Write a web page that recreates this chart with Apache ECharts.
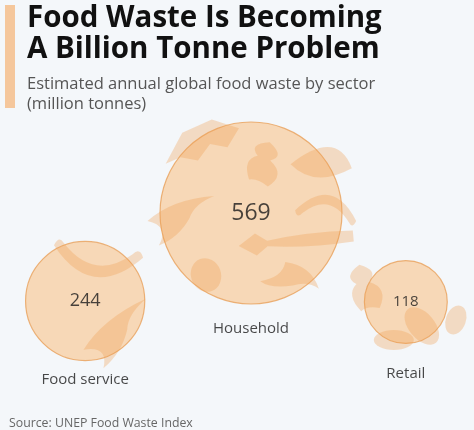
<!DOCTYPE html>
<html>
<head>
<meta charset="utf-8">
<script src="https://cdn.jsdelivr.net/npm/echarts@6/dist/echarts.min.js"></script>
<style>
html,body{margin:0;padding:0;background:#f4f7fa;}
#c{width:474px;height:430px;}
</style>
</head>
<body>
<div id="c"></div>
<script>
var categories = ['Food service', 'Household', 'Retail'];
var values = [244, 569, 118];

var chart = echarts.init(document.getElementById('c'));
var maxV = 569, maxSize = 182;
function sz(v){ return maxSize * Math.sqrt(v / maxV); }

// layout (style only)
var offsets = [[2, 0], [11.5, -88], [10, 1]];
var labelDist = [12, 17, 23];
var valueFont = [18, 23, 15];

var SHAPES = {
  crescent: 'path://M0,10 Q50,60 100,10 Q95,0 88,8 Q50,40 10,6 Q4,0 0,10 Z',
  leaf: 'path://M0,50 Q40,-10 100,20 Q60,60 0,50 Z',
  patch: 'path://M0,60 L30,10 L70,0 L100,30 L80,60 L60,45 L40,70 L20,55 Z',
  core: 'path://M30,0 Q60,20 40,40 Q70,60 50,100 Q30,90 20,100 Q0,60 20,40 Q0,20 30,0 Z',
  banana: 'path://M0,40 Q40,0 100,10 Q70,20 60,50 Q40,90 10,100 Q30,60 0,40 Z',
  fish: 'path://M0,50 L15,30 L25,45 Q60,35 100,40 L100,60 Q60,65 25,55 L15,70 Z',
  blob: 'circle'
};

// decorative food scraps: [bubbleIndex, dx, dy, shape, w, h, rotate]
var decor = [
  [1, -50, -72, 'patch', 80, 36, 15],
  [1, 14, -50, 'core', 32, 42, -20],
  [1, 72, -50, 'leaf', 55, 38, -30],
  [1, 76, -5, 'crescent', 62, 26, 170],
  [1, -68, 8, 'banana', 70, 40, 10],
  [1, 45, 28, 'fish', 115, 22, 5],
  [1, -45, 62, 'blob', 30, 34, 20],
  [1, 38, 70, 'banana', 40, 48, -60],
  [0, 12, -40, 'crescent', 90, 32, -8],
  [0, 36, 34, 'banana', 80, 40, 30],
  [2, -40, -15, 'core', 30, 46, 10],
  [2, 16, 24, 'blob', 26, 44, 40],
  [2, -12, 38, 'blob', 40, 20, 0],
  [2, 50, 18, 'blob', 20, 30, -20]
];

var bubbleData = values.map(function(v, i){
  return { value: [i, 0, v], symbolSize: sz(v), symbolOffset: offsets[i],
    label: { fontSize: valueFont[i] } };
});
var nameData = values.map(function(v, i){
  return { value: [i, 0, v], symbolSize: sz(v), symbolOffset: offsets[i],
    label: { distance: labelDist[i] } };
});
var decorData = decor.map(function(d){
  var o = offsets[d[0]];
  return { value: [d[0], 0], symbol: SHAPES[d[3]], symbolSize: [d[4], d[5]],
    symbolRotate: d[6], symbolOffset: [o[0] + d[1], o[1] + d[2]] };
});

chart.setOption({
  backgroundColor: '#f4f7fa',
  animation: false,
  graphic: [
    { type: 'rect', left: 5, top: 5, shape: { width: 10, height: 103 }, style: { fill: '#f5c79c' } }
  ],
  title: [
    { text: 'Food Waste Is Becoming\nA Billion Tonne Problem', left: 22, top: -2,
      textStyle: { fontFamily: 'Open Sans', fontWeight: 'bold', fontSize: 29.5, lineHeight: 31, color: '#111' } },
    { text: 'Estimated annual global food waste by sector\n(million tonnes)', left: 22, top: 69,
      textStyle: { fontFamily: 'Open Sans', fontWeight: 'normal', fontSize: 16.5, lineHeight: 20, color: '#555' } },
    { text: 'Source: UNEP Food Waste Index', left: 4, top: 412,
      textStyle: { fontFamily: 'Open Sans', fontWeight: 'normal', fontSize: 12.3, color: '#666' } }
  ],
  grid: { left: 5, right: 0, top: 201, height: 200 },
  xAxis: { type: 'category', data: categories, show: false, boundaryGap: true },
  yAxis: { type: 'value', min: -1, max: 1, show: false },
  series: [
    {
      type: 'scatter',
      data: bubbleData,
      itemStyle: { color: '#f8cfa6', borderColor: '#e8a05a', borderWidth: 1.2 },
      label: { show: false },
      z: 1,
      silent: true
    },
    {
      type: 'scatter',
      data: decorData,
      itemStyle: { color: 'rgba(241,160,80,0.4)' },
      z: 2,
      silent: true
    },
    {
      type: 'scatter',
      data: bubbleData,
      itemStyle: { color: 'rgba(0,0,0,0)' },
      label: { show: true, position: 'inside', color: '#1a1a1a', fontFamily: 'Open Sans',
        formatter: function(p){ return p.value[2]; } },
      z: 3,
      silent: true
    },
    {
      type: 'scatter',
      data: nameData,
      itemStyle: { color: 'rgba(0,0,0,0)' },
      label: { show: true, position: 'bottom', color: '#1a1a1a', fontFamily: 'Open Sans', fontSize: 15,
        formatter: function(p){ return categories[p.dataIndex]; } },
      z: 3,
      silent: true
    }
  ]
});
</script>
</body>
</html>
